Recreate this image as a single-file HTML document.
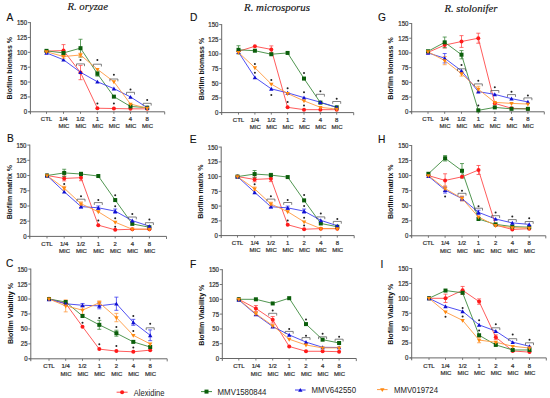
<!DOCTYPE html>
<html><head><meta charset="utf-8"><style>
html,body{margin:0;padding:0;background:#fff;width:550px;height:398px;overflow:hidden;position:relative}
svg text{font-family:"Liberation Sans", sans-serif} svg .ser text{font-family:"Liberation Serif", serif}
</style></head><body>
<svg width="550" height="398" viewBox="0 0 550 398" style="position:absolute;left:0;top:0"><rect width="550" height="398" fill="#fff"/><g class="ser" font-style="italic" font-size="11" fill="#111" stroke="#111" stroke-width="0.15"><text x="67.4" y="10" textLength="40.6" lengthAdjust="spacingAndGlyphs">R. oryzae</text><text x="244" y="10.9" textLength="66" lengthAdjust="spacingAndGlyphs">R. microsporus</text><text x="444.4" y="11.5" textLength="53" lengthAdjust="spacingAndGlyphs">R. stolonifer</text></g><g><text x="6.5" y="20.6" font-size="10.2" fill="#111" stroke="#111" stroke-width="0.12">A</text><text x="-31.2" y="0" transform="translate(12.4 68.2) rotate(-90)" font-size="7.3" font-weight="bold" fill="#111" textLength="62.4" lengthAdjust="spacingAndGlyphs">Biofilm biomass %</text><path d="M30.4 22.1V114.2M28.4 111.8H164.7" stroke="#666666" stroke-width="1" fill="none"/><path d="M27.9 111.8H30.4M27.9 96.93H30.4M27.9 82.07H30.4M27.9 67.2H30.4M27.9 52.33H30.4M27.9 37.47H30.4M27.9 22.6H30.4M46.5 111.8V113.8M63.5 111.8V113.8M80.5 111.8V113.8M97.4 111.8V113.8M113.9 111.8V113.8M130.5 111.8V113.8M147.2 111.8V113.8M164.7 111.8V114.4" stroke="#666666" stroke-width="0.9" fill="none"/><g font-size="6.9" fill="#333333" stroke="#333333" stroke-width="0.24" text-anchor="end"><text transform="translate(27.1 114.25) scale(0.88 1)">0</text><text transform="translate(27.1 99.38) scale(0.88 1)">25</text><text transform="translate(27.1 84.52) scale(0.88 1)">50</text><text transform="translate(27.1 69.65) scale(0.88 1)">75</text><text transform="translate(27.1 54.78) scale(0.88 1)">100</text><text transform="translate(27.1 39.92) scale(0.88 1)">125</text><text transform="translate(27.1 25.05) scale(0.88 1)">150</text></g><g font-size="6.2" fill="#333333" stroke="#333333" stroke-width="0.24" text-anchor="middle"><text transform="translate(46.5 121.4) scale(0.97 1)">CTL</text><text transform="translate(63.5 121.4) scale(0.97 1)">1/4</text><text transform="translate(63.9 128.2) scale(0.97 1)">MIC</text><text transform="translate(80.5 121.4) scale(0.97 1)">1/2</text><text transform="translate(80.9 128.2) scale(0.97 1)">MIC</text><text transform="translate(97.4 121.4) scale(0.97 1)">1</text><text transform="translate(97.8 128.2) scale(0.97 1)">MIC</text><text transform="translate(113.9 121.4) scale(0.97 1)">2</text><text transform="translate(114.3 128.2) scale(0.97 1)">MIC</text><text transform="translate(130.5 121.4) scale(0.97 1)">4</text><text transform="translate(130.9 128.2) scale(0.97 1)">MIC</text><text transform="translate(147.2 121.4) scale(0.97 1)">8</text><text transform="translate(147.6 128.2) scale(0.97 1)">MIC</text></g><polyline points="46.5,51.14 63.5,50.55 80.5,72.55 97.4,108.23 113.9,108.53 130.5,108.83 147.2,108.83" fill="none" stroke="#ff4a4a" stroke-width="0.9"/><polyline points="46.5,50.85 63.5,52.93 80.5,48.17 97.4,73.74 113.9,96.64 130.5,106.45 147.2,107.64" fill="none" stroke="#3d8a3d" stroke-width="0.9"/><polyline points="46.5,52.93 63.5,59.77 80.5,72.25 97.4,81.77 113.9,88.61 130.5,96.93 147.2,107.64" fill="none" stroke="#3c3cf0" stroke-width="0.9"/><polyline points="46.5,51.74 63.5,56.5 80.5,55.01 97.4,69.28 113.9,81.77 130.5,104.07 147.2,108.23" fill="none" stroke="#ff9a40" stroke-width="0.9"/><path d="M63.5 44.6V56.5M61.5 44.6H65.5M61.5 56.5H65.5" stroke="#ff4a4a" stroke-width="0.8" fill="none"/><path d="M80.5 65.42V79.69M78.5 65.42H82.5M78.5 79.69H82.5" stroke="#ff4a4a" stroke-width="0.8" fill="none"/><path d="M80.5 39.25V57.09M78.5 39.25H82.5M78.5 57.09H82.5" stroke="#3d8a3d" stroke-width="0.8" fill="none"/><path d="M63.5 51.14V54.71M61.5 51.14H65.5M61.5 54.71H65.5" stroke="#3d8a3d" stroke-width="0.8" fill="none"/><path d="M97.4 71.36V76.12M95.4 71.36H99.4M95.4 76.12H99.4" stroke="#3d8a3d" stroke-width="0.8" fill="none"/><path d="M63.5 54.71V58.28M61.5 54.71H65.5M61.5 58.28H65.5" stroke="#ff9a40" stroke-width="0.8" fill="none"/><path d="M80.5 53.23V56.79M78.5 53.23H82.5M78.5 56.79H82.5" stroke="#ff9a40" stroke-width="0.8" fill="none"/><circle cx="46.5" cy="51.14" r="2" fill="#ff1a1a"/><circle cx="63.5" cy="50.55" r="2" fill="#ff1a1a"/><circle cx="80.5" cy="72.55" r="2" fill="#ff1a1a"/><circle cx="97.4" cy="108.23" r="2" fill="#ff1a1a"/><circle cx="113.9" cy="108.53" r="2" fill="#ff1a1a"/><circle cx="130.5" cy="108.83" r="2" fill="#ff1a1a"/><circle cx="147.2" cy="108.83" r="2" fill="#ff1a1a"/><rect x="44.5" y="48.85" width="4" height="4" fill="#0b5e0b"/><rect x="61.5" y="50.93" width="4" height="4" fill="#0b5e0b"/><rect x="78.5" y="46.17" width="4" height="4" fill="#0b5e0b"/><rect x="95.4" y="71.74" width="4" height="4" fill="#0b5e0b"/><rect x="111.9" y="94.64" width="4" height="4" fill="#0b5e0b"/><rect x="128.5" y="104.45" width="4" height="4" fill="#0b5e0b"/><rect x="145.2" y="105.64" width="4" height="4" fill="#0b5e0b"/><path d="M46.5 50.88L48.7 54.77L44.3 54.77Z" fill="#1010d0"/><path d="M63.5 57.72L65.7 61.61L61.3 61.61Z" fill="#1010d0"/><path d="M80.5 70.2L82.7 74.1L78.3 74.1Z" fill="#1010d0"/><path d="M97.4 79.72L99.6 83.61L95.2 83.61Z" fill="#1010d0"/><path d="M113.9 86.56L116.1 90.45L111.7 90.45Z" fill="#1010d0"/><path d="M130.5 94.88L132.7 98.78L128.3 98.78Z" fill="#1010d0"/><path d="M147.2 105.59L149.4 109.48L145 109.48Z" fill="#1010d0"/><path d="M46.5 54.24L48.7 50.34L44.3 50.34Z" fill="#ff8a10"/><path d="M63.5 59L65.7 55.1L61.3 55.1Z" fill="#ff8a10"/><path d="M80.5 57.51L82.7 53.61L78.3 53.61Z" fill="#ff8a10"/><path d="M97.4 71.78L99.6 67.89L95.2 67.89Z" fill="#ff8a10"/><path d="M113.9 84.27L116.1 80.37L111.7 80.37Z" fill="#ff8a10"/><path d="M130.5 106.57L132.7 102.67L128.3 102.67Z" fill="#ff8a10"/><path d="M147.2 110.73L149.4 106.84L145 106.84Z" fill="#ff8a10"/><path d="M76.5 66.2V63.9H84.5V66.2M93.4 66.5V64.2H101.4V66.5M109.9 81.3V79H117.9V81.3M126.5 94.6V92.3H134.5V94.6M143.2 105.6V103.3H151.2V105.6" stroke="#555" stroke-width="0.75" fill="none"/><circle cx="80.5" cy="60" r="1.0" fill="#222"/><circle cx="97.4" cy="60" r="1.0" fill="#222"/><circle cx="113.9" cy="74.8" r="1.0" fill="#222"/><circle cx="130.5" cy="89.5" r="1.0" fill="#222"/><circle cx="147.2" cy="100" r="1.0" fill="#222"/><circle cx="97.4" cy="103.6" r="1.0" fill="#222"/><circle cx="113.9" cy="103.6" r="1.0" fill="#222"/></g><g><text x="190" y="20.6" font-size="10.2" fill="#111" stroke="#111" stroke-width="0.12">D</text><text x="-31.2" y="0" transform="translate(203.5 69) rotate(-90)" font-size="7.3" font-weight="bold" fill="#111" textLength="62.4" lengthAdjust="spacingAndGlyphs">Biofilm biomass %</text><path d="M221.7 24.1V115M219.7 112.6H353.7" stroke="#666666" stroke-width="1" fill="none"/><path d="M219.2 112.6H221.7M219.2 97.93H221.7M219.2 83.27H221.7M219.2 68.6H221.7M219.2 53.93H221.7M219.2 39.27H221.7M219.2 24.6H221.7M238.5 112.6V114.6M254.9 112.6V114.6M271.3 112.6V114.6M287.6 112.6V114.6M304 112.6V114.6M320.4 112.6V114.6M336.7 112.6V114.6M353.7 112.6V115.2" stroke="#666666" stroke-width="0.9" fill="none"/><g font-size="6.9" fill="#333333" stroke="#333333" stroke-width="0.24" text-anchor="end"><text transform="translate(218.4 115.05) scale(0.88 1)">0</text><text transform="translate(218.4 100.38) scale(0.88 1)">25</text><text transform="translate(218.4 85.72) scale(0.88 1)">50</text><text transform="translate(218.4 71.05) scale(0.88 1)">75</text><text transform="translate(218.4 56.38) scale(0.88 1)">100</text><text transform="translate(218.4 41.72) scale(0.88 1)">125</text><text transform="translate(218.4 27.05) scale(0.88 1)">150</text></g><g font-size="6.2" fill="#333333" stroke="#333333" stroke-width="0.24" text-anchor="middle"><text transform="translate(238.5 122.2) scale(0.97 1)">CTL</text><text transform="translate(254.9 122.2) scale(0.97 1)">1/4</text><text transform="translate(255.3 129) scale(0.97 1)">MIC</text><text transform="translate(271.3 122.2) scale(0.97 1)">1/2</text><text transform="translate(271.7 129) scale(0.97 1)">MIC</text><text transform="translate(287.6 122.2) scale(0.97 1)">1</text><text transform="translate(288 129) scale(0.97 1)">MIC</text><text transform="translate(304 122.2) scale(0.97 1)">2</text><text transform="translate(304.4 129) scale(0.97 1)">MIC</text><text transform="translate(320.4 122.2) scale(0.97 1)">4</text><text transform="translate(320.8 129) scale(0.97 1)">MIC</text><text transform="translate(336.7 122.2) scale(0.97 1)">8</text><text transform="translate(337.1 129) scale(0.97 1)">MIC</text></g><polyline points="238.5,51.29 254.9,46.31 271.3,49.42 287.6,107.32 304,109.67 320.4,109.67 336.7,109.67" fill="none" stroke="#ff4a4a" stroke-width="0.9"/><polyline points="238.5,49.83 254.9,50.71 271.3,54.23 287.6,52.94 304,78.57 320.4,102.63 336.7,107.32" fill="none" stroke="#3d8a3d" stroke-width="0.9"/><polyline points="238.5,52.17 254.9,77.4 271.3,88.9 287.6,92.83 304,97.64 320.4,102.22 336.7,107.32" fill="none" stroke="#3c3cf0" stroke-width="0.9"/><polyline points="238.5,52.47 254.9,67.72 271.3,84.09 287.6,93.47 304,100.87 320.4,107.32 336.7,109.08" fill="none" stroke="#ff9a40" stroke-width="0.9"/><path d="M271.3 45.9V52.94M269.3 45.9H273.3M269.3 52.94H273.3" stroke="#ff4a4a" stroke-width="0.8" fill="none"/><path d="M238.5 45.72V53.93M236.5 45.72H240.5M236.5 53.93H240.5" stroke="#3d8a3d" stroke-width="0.8" fill="none"/><circle cx="238.5" cy="51.29" r="2" fill="#ff1a1a"/><circle cx="254.9" cy="46.31" r="2" fill="#ff1a1a"/><circle cx="271.3" cy="49.42" r="2" fill="#ff1a1a"/><circle cx="287.6" cy="107.32" r="2" fill="#ff1a1a"/><circle cx="304" cy="109.67" r="2" fill="#ff1a1a"/><circle cx="320.4" cy="109.67" r="2" fill="#ff1a1a"/><circle cx="336.7" cy="109.67" r="2" fill="#ff1a1a"/><rect x="236.5" y="47.83" width="4" height="4" fill="#0b5e0b"/><rect x="252.9" y="48.71" width="4" height="4" fill="#0b5e0b"/><rect x="269.3" y="52.23" width="4" height="4" fill="#0b5e0b"/><rect x="285.6" y="50.94" width="4" height="4" fill="#0b5e0b"/><rect x="302" y="76.57" width="4" height="4" fill="#0b5e0b"/><rect x="318.4" y="100.63" width="4" height="4" fill="#0b5e0b"/><rect x="334.7" y="105.32" width="4" height="4" fill="#0b5e0b"/><path d="M238.5 50.12L240.7 54.02L236.3 54.02Z" fill="#1010d0"/><path d="M254.9 75.35L257.1 79.24L252.7 79.24Z" fill="#1010d0"/><path d="M271.3 86.85L273.5 90.74L269.1 90.74Z" fill="#1010d0"/><path d="M287.6 90.78L289.8 94.67L285.4 94.67Z" fill="#1010d0"/><path d="M304 95.59L306.2 99.48L301.8 99.48Z" fill="#1010d0"/><path d="M320.4 100.17L322.6 104.06L318.2 104.06Z" fill="#1010d0"/><path d="M336.7 105.27L338.9 109.16L334.5 109.16Z" fill="#1010d0"/><path d="M238.5 54.97L240.7 51.07L236.3 51.07Z" fill="#ff8a10"/><path d="M254.9 70.22L257.1 66.33L252.7 66.33Z" fill="#ff8a10"/><path d="M271.3 86.59L273.5 82.69L269.1 82.69Z" fill="#ff8a10"/><path d="M287.6 95.97L289.8 92.08L285.4 92.08Z" fill="#ff8a10"/><path d="M304 103.37L306.2 99.47L301.8 99.47Z" fill="#ff8a10"/><path d="M320.4 109.82L322.6 105.92L318.2 105.92Z" fill="#ff8a10"/><path d="M336.7 111.58L338.9 107.69L334.5 107.69Z" fill="#ff8a10"/><path d="M316.4 96.6V94.3H324.4V96.6M332.7 103.8V101.5H340.7V103.8" stroke="#555" stroke-width="0.75" fill="none"/><circle cx="254.9" cy="63.9" r="1.0" fill="#222"/><circle cx="254.9" cy="72.8" r="1.0" fill="#222"/><circle cx="271.3" cy="80" r="1.0" fill="#222"/><circle cx="271.3" cy="95" r="1.0" fill="#222"/><circle cx="287.6" cy="88.3" r="1.0" fill="#222"/><circle cx="287.6" cy="102" r="1.0" fill="#222"/><circle cx="304" cy="72.9" r="1.0" fill="#222"/><circle cx="304" cy="92.2" r="1.0" fill="#222"/><circle cx="304" cy="105.5" r="1.0" fill="#222"/><circle cx="320.4" cy="91.3" r="1.0" fill="#222"/><circle cx="336.7" cy="98.7" r="1.0" fill="#222"/></g><g><text x="378" y="21" font-size="10.2" fill="#111" stroke="#111" stroke-width="0.12">G</text><text x="-31.2" y="0" transform="translate(393.1 68.5) rotate(-90)" font-size="7.3" font-weight="bold" fill="#111" textLength="62.4" lengthAdjust="spacingAndGlyphs">Biofilm biomass %</text><path d="M411.7 23V114.2M409.7 111.8H544.3" stroke="#666666" stroke-width="1" fill="none"/><path d="M409.2 111.8H411.7M409.2 97.08H411.7M409.2 82.37H411.7M409.2 67.65H411.7M409.2 52.93H411.7M409.2 38.22H411.7M409.2 23.5H411.7M428 111.8V113.8M444.7 111.8V113.8M461.5 111.8V113.8M478.3 111.8V113.8M494.8 111.8V113.8M511.5 111.8V113.8M527.9 111.8V113.8M544.3 111.8V114.4" stroke="#666666" stroke-width="0.9" fill="none"/><g font-size="6.9" fill="#333333" stroke="#333333" stroke-width="0.24" text-anchor="end"><text transform="translate(408.4 114.25) scale(0.88 1)">0</text><text transform="translate(408.4 99.53) scale(0.88 1)">25</text><text transform="translate(408.4 84.82) scale(0.88 1)">50</text><text transform="translate(408.4 70.1) scale(0.88 1)">75</text><text transform="translate(408.4 55.38) scale(0.88 1)">100</text><text transform="translate(408.4 40.67) scale(0.88 1)">125</text><text transform="translate(408.4 25.95) scale(0.88 1)">150</text></g><g font-size="6.2" fill="#333333" stroke="#333333" stroke-width="0.24" text-anchor="middle"><text transform="translate(428 121.4) scale(0.97 1)">CTL</text><text transform="translate(444.7 121.4) scale(0.97 1)">1/4</text><text transform="translate(445.1 128.1) scale(0.97 1)">MIC</text><text transform="translate(461.5 121.4) scale(0.97 1)">1/2</text><text transform="translate(461.9 128.1) scale(0.97 1)">MIC</text><text transform="translate(478.3 121.4) scale(0.97 1)">1</text><text transform="translate(478.7 128.1) scale(0.97 1)">MIC</text><text transform="translate(494.8 121.4) scale(0.97 1)">2</text><text transform="translate(495.2 128.1) scale(0.97 1)">MIC</text><text transform="translate(511.5 121.4) scale(0.97 1)">4</text><text transform="translate(511.9 128.1) scale(0.97 1)">MIC</text><text transform="translate(527.9 121.4) scale(0.97 1)">8</text><text transform="translate(528.3 128.1) scale(0.97 1)">MIC</text></g><polyline points="428,52.34 444.7,45.1 461.5,41.51 478.3,38.22 494.8,103.38 511.5,108.27 527.9,108.86" fill="none" stroke="#ff4a4a" stroke-width="0.9"/><polyline points="428,51.29 444.7,42.34 461.5,54.7 478.3,110.33 494.8,107.38 511.5,108.86 527.9,108.86" fill="none" stroke="#3d8a3d" stroke-width="0.9"/><polyline points="428,52.93 444.7,58.23 461.5,70.83 478.3,91.61 494.8,94.38 511.5,98.67 527.9,101.91" fill="none" stroke="#3c3cf0" stroke-width="0.9"/><polyline points="428,51.76 444.7,60.59 461.5,73.71 478.3,89.2 494.8,102.38 511.5,103.38 527.9,104.03" fill="none" stroke="#ff9a40" stroke-width="0.9"/><path d="M444.7 42.16V48.05M442.7 42.16H446.7M442.7 48.05H446.7" stroke="#ff4a4a" stroke-width="0.8" fill="none"/><path d="M461.5 35.63V47.4M459.5 35.63H463.5M459.5 47.4H463.5" stroke="#ff4a4a" stroke-width="0.8" fill="none"/><path d="M478.3 33.21V43.22M476.3 33.21H480.3M476.3 43.22H480.3" stroke="#ff4a4a" stroke-width="0.8" fill="none"/><path d="M444.7 37.04V47.64M442.7 37.04H446.7M442.7 47.64H446.7" stroke="#3d8a3d" stroke-width="0.8" fill="none"/><path d="M461.5 50.58V58.82M459.5 50.58H463.5M459.5 58.82H463.5" stroke="#3d8a3d" stroke-width="0.8" fill="none"/><path d="M444.7 53.52V62.94M442.7 53.52H446.7M442.7 62.94H446.7" stroke="#3c3cf0" stroke-width="0.8" fill="none"/><path d="M444.7 56.47V64.71M442.7 56.47H446.7M442.7 64.71H446.7" stroke="#ff9a40" stroke-width="0.8" fill="none"/><path d="M461.5 71.36V76.07M459.5 71.36H463.5M459.5 76.07H463.5" stroke="#ff9a40" stroke-width="0.8" fill="none"/><path d="M478.3 86.25V92.14M476.3 86.25H480.3M476.3 92.14H480.3" stroke="#ff9a40" stroke-width="0.8" fill="none"/><circle cx="428" cy="52.34" r="2" fill="#ff1a1a"/><circle cx="444.7" cy="45.1" r="2" fill="#ff1a1a"/><circle cx="461.5" cy="41.51" r="2" fill="#ff1a1a"/><circle cx="478.3" cy="38.22" r="2" fill="#ff1a1a"/><circle cx="494.8" cy="103.38" r="2" fill="#ff1a1a"/><circle cx="511.5" cy="108.27" r="2" fill="#ff1a1a"/><circle cx="527.9" cy="108.86" r="2" fill="#ff1a1a"/><rect x="426" y="49.29" width="4" height="4" fill="#0b5e0b"/><rect x="442.7" y="40.34" width="4" height="4" fill="#0b5e0b"/><rect x="459.5" y="52.7" width="4" height="4" fill="#0b5e0b"/><rect x="476.3" y="108.33" width="4" height="4" fill="#0b5e0b"/><rect x="492.8" y="105.38" width="4" height="4" fill="#0b5e0b"/><rect x="509.5" y="106.86" width="4" height="4" fill="#0b5e0b"/><rect x="525.9" y="106.86" width="4" height="4" fill="#0b5e0b"/><path d="M428 50.88L430.2 54.78L425.8 54.78Z" fill="#1010d0"/><path d="M444.7 56.18L446.9 60.08L442.5 60.08Z" fill="#1010d0"/><path d="M461.5 68.78L463.7 72.67L459.3 72.67Z" fill="#1010d0"/><path d="M478.3 89.56L480.5 93.45L476.1 93.45Z" fill="#1010d0"/><path d="M494.8 92.33L497 96.22L492.6 96.22Z" fill="#1010d0"/><path d="M511.5 96.62L513.7 100.52L509.3 100.52Z" fill="#1010d0"/><path d="M527.9 99.86L530.1 103.76L525.7 103.76Z" fill="#1010d0"/><path d="M428 54.26L430.2 50.36L425.8 50.36Z" fill="#ff8a10"/><path d="M444.7 63.09L446.9 59.19L442.5 59.19Z" fill="#ff8a10"/><path d="M461.5 76.21L463.7 72.32L459.3 72.32Z" fill="#ff8a10"/><path d="M478.3 91.7L480.5 87.8L476.1 87.8Z" fill="#ff8a10"/><path d="M494.8 104.88L497 100.99L492.6 100.99Z" fill="#ff8a10"/><path d="M511.5 105.88L513.7 101.99L509.3 101.99Z" fill="#ff8a10"/><path d="M527.9 106.53L530.1 102.63L525.7 102.63Z" fill="#ff8a10"/><path d="M457.5 71.1V68.8H465.5V71.1M474.3 86.2V83.9H482.3V86.2M490.8 92.8V90.5H498.8V92.8M507.5 96.9V94.6H515.5V96.9M523.9 100.2V97.9H531.9V100.2" stroke="#555" stroke-width="0.75" fill="none"/><circle cx="461.5" cy="65" r="1.0" fill="#222"/><circle cx="478.3" cy="80.8" r="1.0" fill="#222"/><circle cx="478.3" cy="105.6" r="1.0" fill="#222"/><circle cx="494.8" cy="87.2" r="1.0" fill="#222"/><circle cx="511.5" cy="91.7" r="1.0" fill="#222"/><circle cx="527.9" cy="95.4" r="1.0" fill="#222"/></g><g><text x="7" y="142" font-size="10.2" fill="#111" stroke="#111" stroke-width="0.12">B</text><text x="-27.15" y="0" transform="translate(12.4 192.2) rotate(-90)" font-size="7.3" font-weight="bold" fill="#111" textLength="54.3" lengthAdjust="spacingAndGlyphs">Biofilm matrix %</text><path d="M29.8 144.6V238.8M27.8 236.4H166.5" stroke="#666666" stroke-width="1" fill="none"/><path d="M27.3 236.4H29.8M27.3 221.18H29.8M27.3 205.97H29.8M27.3 190.75H29.8M27.3 175.53H29.8M27.3 160.32H29.8M27.3 145.1H29.8M47 236.4V238.4M64.2 236.4V238.4M81 236.4V238.4M98.3 236.4V238.4M115.2 236.4V238.4M132.3 236.4V238.4M149.4 236.4V238.4M166.5 236.4V239" stroke="#666666" stroke-width="0.9" fill="none"/><g font-size="6.9" fill="#333333" stroke="#333333" stroke-width="0.24" text-anchor="end"><text transform="translate(26.5 238.85) scale(0.88 1)">0</text><text transform="translate(26.5 223.63) scale(0.88 1)">25</text><text transform="translate(26.5 208.42) scale(0.88 1)">50</text><text transform="translate(26.5 193.2) scale(0.88 1)">75</text><text transform="translate(26.5 177.98) scale(0.88 1)">100</text><text transform="translate(26.5 162.77) scale(0.88 1)">125</text><text transform="translate(26.5 147.55) scale(0.88 1)">150</text></g><g font-size="6.2" fill="#333333" stroke="#333333" stroke-width="0.24" text-anchor="middle"><text transform="translate(47 246) scale(0.97 1)">CTL</text><text transform="translate(64.2 246) scale(0.97 1)">1/4</text><text transform="translate(64.6 253.2) scale(0.97 1)">MIC</text><text transform="translate(81 246) scale(0.97 1)">1/2</text><text transform="translate(81.4 253.2) scale(0.97 1)">MIC</text><text transform="translate(98.3 246) scale(0.97 1)">1</text><text transform="translate(98.7 253.2) scale(0.97 1)">MIC</text><text transform="translate(115.2 246) scale(0.97 1)">2</text><text transform="translate(115.6 253.2) scale(0.97 1)">MIC</text><text transform="translate(132.3 246) scale(0.97 1)">4</text><text transform="translate(132.7 253.2) scale(0.97 1)">MIC</text><text transform="translate(149.4 246) scale(0.97 1)">8</text><text transform="translate(149.8 253.2) scale(0.97 1)">MIC</text></g><polyline points="47,175.53 64.2,178.45 81,177.66 98.3,225.2 115.2,229.83 132.3,229.22 149.4,229.22" fill="none" stroke="#ff4a4a" stroke-width="0.9"/><polyline points="47,175.53 64.2,172.92 81,174.01 98.3,176.02 115.2,200.06 132.3,223.86 149.4,227.27" fill="none" stroke="#3d8a3d" stroke-width="0.9"/><polyline points="47,175.53 64.2,191.72 81,206.58 98.3,207.79 115.2,211.14 132.3,220.64 149.4,226.24" fill="none" stroke="#3c3cf0" stroke-width="0.9"/><polyline points="47,175.53 64.2,188.13 81,203.78 98.3,211.75 115.2,222.22 132.3,229.22 149.4,229.22" fill="none" stroke="#ff9a40" stroke-width="0.9"/><path d="M64.2 176.02V180.89M62.2 176.02H66.2M62.2 180.89H66.2" stroke="#ff4a4a" stroke-width="0.8" fill="none"/><path d="M81 174.62V180.71M79 174.62H83M79 180.71H83" stroke="#ff4a4a" stroke-width="0.8" fill="none"/><path d="M64.2 169.26V176.57M62.2 169.26H66.2M62.2 176.57H66.2" stroke="#3d8a3d" stroke-width="0.8" fill="none"/><path d="M81 172.19V175.84M79 172.19H83M79 175.84H83" stroke="#3d8a3d" stroke-width="0.8" fill="none"/><path d="M98.3 205.97V209.62M96.3 205.97H100.3M96.3 209.62H100.3" stroke="#3c3cf0" stroke-width="0.8" fill="none"/><path d="M81 205.36V207.79M79 205.36H83M79 207.79H83" stroke="#3c3cf0" stroke-width="0.8" fill="none"/><path d="M115.2 209.01V213.27M113.2 209.01H117.2M113.2 213.27H117.2" stroke="#3c3cf0" stroke-width="0.8" fill="none"/><path d="M64.2 186.31V189.96M62.2 186.31H66.2M62.2 189.96H66.2" stroke="#ff9a40" stroke-width="0.8" fill="none"/><path d="M81 201.95V205.6M79 201.95H83M79 205.6H83" stroke="#ff9a40" stroke-width="0.8" fill="none"/><circle cx="47" cy="175.53" r="2" fill="#ff1a1a"/><circle cx="64.2" cy="178.45" r="2" fill="#ff1a1a"/><circle cx="81" cy="177.66" r="2" fill="#ff1a1a"/><circle cx="98.3" cy="225.2" r="2" fill="#ff1a1a"/><circle cx="115.2" cy="229.83" r="2" fill="#ff1a1a"/><circle cx="132.3" cy="229.22" r="2" fill="#ff1a1a"/><circle cx="149.4" cy="229.22" r="2" fill="#ff1a1a"/><rect x="45" y="173.53" width="4" height="4" fill="#0b5e0b"/><rect x="62.2" y="170.92" width="4" height="4" fill="#0b5e0b"/><rect x="79" y="172.01" width="4" height="4" fill="#0b5e0b"/><rect x="96.3" y="174.02" width="4" height="4" fill="#0b5e0b"/><rect x="113.2" y="198.06" width="4" height="4" fill="#0b5e0b"/><rect x="130.3" y="221.86" width="4" height="4" fill="#0b5e0b"/><rect x="147.4" y="225.27" width="4" height="4" fill="#0b5e0b"/><path d="M47 173.48L49.2 177.38L44.8 177.38Z" fill="#1010d0"/><path d="M64.2 189.67L66.4 193.57L62 193.57Z" fill="#1010d0"/><path d="M81 204.53L83.2 208.42L78.8 208.42Z" fill="#1010d0"/><path d="M98.3 205.74L100.5 209.64L96.1 209.64Z" fill="#1010d0"/><path d="M115.2 209.09L117.4 212.99L113 212.99Z" fill="#1010d0"/><path d="M132.3 218.59L134.5 222.48L130.1 222.48Z" fill="#1010d0"/><path d="M149.4 224.19L151.6 228.08L147.2 228.08Z" fill="#1010d0"/><path d="M47 178.03L49.2 174.14L44.8 174.14Z" fill="#ff8a10"/><path d="M64.2 190.63L66.4 186.74L62 186.74Z" fill="#ff8a10"/><path d="M81 206.28L83.2 202.38L78.8 202.38Z" fill="#ff8a10"/><path d="M98.3 214.25L100.5 210.35L96.1 210.35Z" fill="#ff8a10"/><path d="M115.2 224.72L117.4 220.82L113 220.82Z" fill="#ff8a10"/><path d="M132.3 231.72L134.5 227.82L130.1 227.82Z" fill="#ff8a10"/><path d="M149.4 231.72L151.6 227.82L147.2 227.82Z" fill="#ff8a10"/><path d="M77 201.5V199.2H85V201.5M94.3 204.9V202.6H102.3V204.9M128.3 219.3V217H136.3V219.3M145.4 225V222.7H153.4V225" stroke="#555" stroke-width="0.75" fill="none"/><circle cx="64.2" cy="184.1" r="1.0" fill="#222"/><circle cx="81" cy="196.3" r="1.0" fill="#222"/><circle cx="98.3" cy="200.1" r="1.0" fill="#222"/><circle cx="98.3" cy="220.4" r="1.0" fill="#222"/><circle cx="115.2" cy="195.2" r="1.0" fill="#222"/><circle cx="115.2" cy="206.3" r="1.0" fill="#222"/><circle cx="115.2" cy="218.3" r="1.0" fill="#222"/><circle cx="115.2" cy="226.8" r="1.0" fill="#222"/><circle cx="132.3" cy="213.9" r="1.0" fill="#222"/><circle cx="149.4" cy="219.5" r="1.0" fill="#222"/></g><g><text x="189.7" y="143" font-size="10.2" fill="#111" stroke="#111" stroke-width="0.12">E</text><text x="-27.15" y="0" transform="translate(203.1 191.65) rotate(-90)" font-size="7.3" font-weight="bold" fill="#111" textLength="54.3" lengthAdjust="spacingAndGlyphs">Biofilm matrix %</text><path d="M221.2 146.6V238M219.2 235.6H354.2" stroke="#666666" stroke-width="1" fill="none"/><path d="M218.7 235.6H221.2M218.7 220.85H221.2M218.7 206.1H221.2M218.7 191.35H221.2M218.7 176.6H221.2M218.7 161.85H221.2M218.7 147.1H221.2M237.5 235.6V237.6M254.6 235.6V237.6M270.9 235.6V237.6M287.7 235.6V237.6M304.1 235.6V237.6M320.8 235.6V237.6M337.3 235.6V237.6M354.2 235.6V238.2" stroke="#666666" stroke-width="0.9" fill="none"/><g font-size="6.9" fill="#333333" stroke="#333333" stroke-width="0.24" text-anchor="end"><text transform="translate(217.9 238.05) scale(0.88 1)">0</text><text transform="translate(217.9 223.3) scale(0.88 1)">25</text><text transform="translate(217.9 208.55) scale(0.88 1)">50</text><text transform="translate(217.9 193.8) scale(0.88 1)">75</text><text transform="translate(217.9 179.05) scale(0.88 1)">100</text><text transform="translate(217.9 164.3) scale(0.88 1)">125</text><text transform="translate(217.9 149.55) scale(0.88 1)">150</text></g><g font-size="6.2" fill="#333333" stroke="#333333" stroke-width="0.24" text-anchor="middle"><text transform="translate(237.5 245.2) scale(0.97 1)">CTL</text><text transform="translate(254.6 245.2) scale(0.97 1)">1/4</text><text transform="translate(255 252.4) scale(0.97 1)">MIC</text><text transform="translate(270.9 245.2) scale(0.97 1)">1/2</text><text transform="translate(271.3 252.4) scale(0.97 1)">MIC</text><text transform="translate(287.7 245.2) scale(0.97 1)">1</text><text transform="translate(288.1 252.4) scale(0.97 1)">MIC</text><text transform="translate(304.1 245.2) scale(0.97 1)">2</text><text transform="translate(304.5 252.4) scale(0.97 1)">MIC</text><text transform="translate(320.8 245.2) scale(0.97 1)">4</text><text transform="translate(321.2 252.4) scale(0.97 1)">MIC</text><text transform="translate(337.3 245.2) scale(0.97 1)">8</text><text transform="translate(337.7 252.4) scale(0.97 1)">MIC</text></g><polyline points="237.5,176.6 254.6,179.43 270.9,178.66 287.7,224.74 304.1,229.23 320.8,228.64 337.3,228.64" fill="none" stroke="#ff4a4a" stroke-width="0.9"/><polyline points="237.5,176.6 254.6,174.06 270.9,175.12 287.7,177.07 304.1,200.38 320.8,223.45 337.3,226.75" fill="none" stroke="#3d8a3d" stroke-width="0.9"/><polyline points="237.5,176.6 254.6,192.29 270.9,206.69 287.7,207.87 304.1,211.12 320.8,220.32 337.3,225.75" fill="none" stroke="#3c3cf0" stroke-width="0.9"/><polyline points="237.5,176.6 254.6,188.81 270.9,203.98 287.7,211.7 304.1,221.85 320.8,228.64 337.3,228.64" fill="none" stroke="#ff9a40" stroke-width="0.9"/><path d="M254.6 177.07V181.79M252.6 177.07H256.6M252.6 181.79H256.6" stroke="#ff4a4a" stroke-width="0.8" fill="none"/><path d="M270.9 175.72V181.62M268.9 175.72H272.9M268.9 181.62H272.9" stroke="#ff4a4a" stroke-width="0.8" fill="none"/><path d="M254.6 170.52V177.6M252.6 170.52H256.6M252.6 177.6H256.6" stroke="#3d8a3d" stroke-width="0.8" fill="none"/><path d="M270.9 173.35V176.89M268.9 173.35H272.9M268.9 176.89H272.9" stroke="#3d8a3d" stroke-width="0.8" fill="none"/><path d="M287.7 206.1V209.64M285.7 206.1H289.7M285.7 209.64H289.7" stroke="#3c3cf0" stroke-width="0.8" fill="none"/><path d="M270.9 205.51V207.87M268.9 205.51H272.9M268.9 207.87H272.9" stroke="#3c3cf0" stroke-width="0.8" fill="none"/><path d="M304.1 209.05V213.18M302.1 209.05H306.1M302.1 213.18H306.1" stroke="#3c3cf0" stroke-width="0.8" fill="none"/><path d="M254.6 187.04V190.58M252.6 187.04H256.6M252.6 190.58H256.6" stroke="#ff9a40" stroke-width="0.8" fill="none"/><path d="M270.9 202.21V205.75M268.9 202.21H272.9M268.9 205.75H272.9" stroke="#ff9a40" stroke-width="0.8" fill="none"/><circle cx="237.5" cy="176.6" r="2" fill="#ff1a1a"/><circle cx="254.6" cy="179.43" r="2" fill="#ff1a1a"/><circle cx="270.9" cy="178.66" r="2" fill="#ff1a1a"/><circle cx="287.7" cy="224.74" r="2" fill="#ff1a1a"/><circle cx="304.1" cy="229.23" r="2" fill="#ff1a1a"/><circle cx="320.8" cy="228.64" r="2" fill="#ff1a1a"/><circle cx="337.3" cy="228.64" r="2" fill="#ff1a1a"/><rect x="235.5" y="174.6" width="4" height="4" fill="#0b5e0b"/><rect x="252.6" y="172.06" width="4" height="4" fill="#0b5e0b"/><rect x="268.9" y="173.12" width="4" height="4" fill="#0b5e0b"/><rect x="285.7" y="175.07" width="4" height="4" fill="#0b5e0b"/><rect x="302.1" y="198.38" width="4" height="4" fill="#0b5e0b"/><rect x="318.8" y="221.45" width="4" height="4" fill="#0b5e0b"/><rect x="335.3" y="224.75" width="4" height="4" fill="#0b5e0b"/><path d="M237.5 174.55L239.7 178.44L235.3 178.44Z" fill="#1010d0"/><path d="M254.6 190.24L256.8 194.14L252.4 194.14Z" fill="#1010d0"/><path d="M270.9 204.64L273.1 208.53L268.7 208.53Z" fill="#1010d0"/><path d="M287.7 205.82L289.9 209.72L285.5 209.72Z" fill="#1010d0"/><path d="M304.1 209.06L306.3 212.96L301.9 212.96Z" fill="#1010d0"/><path d="M320.8 218.27L323 222.16L318.6 222.16Z" fill="#1010d0"/><path d="M337.3 223.7L339.5 227.59L335.1 227.59Z" fill="#1010d0"/><path d="M237.5 179.1L239.7 175.2L235.3 175.2Z" fill="#ff8a10"/><path d="M254.6 191.31L256.8 187.42L252.4 187.42Z" fill="#ff8a10"/><path d="M270.9 206.48L273.1 202.58L268.7 202.58Z" fill="#ff8a10"/><path d="M287.7 214.2L289.9 210.31L285.5 210.31Z" fill="#ff8a10"/><path d="M304.1 224.35L306.3 220.46L301.9 220.46Z" fill="#ff8a10"/><path d="M320.8 231.14L323 227.24L318.6 227.24Z" fill="#ff8a10"/><path d="M337.3 231.14L339.5 227.24L335.1 227.24Z" fill="#ff8a10"/><path d="M266.9 201.4V199.1H274.9V201.4M283.7 204.8V202.5H291.7V204.8M316.8 219.2V216.9H324.8V219.2M333.3 223.7V221.4H341.3V223.7" stroke="#555" stroke-width="0.75" fill="none"/><circle cx="254.6" cy="184.2" r="1.0" fill="#222"/><circle cx="270.9" cy="196.3" r="1.0" fill="#222"/><circle cx="287.7" cy="200" r="1.0" fill="#222"/><circle cx="287.7" cy="220.4" r="1.0" fill="#222"/><circle cx="304.1" cy="195.1" r="1.0" fill="#222"/><circle cx="304.1" cy="206" r="1.0" fill="#222"/><circle cx="304.1" cy="217.7" r="1.0" fill="#222"/><circle cx="304.1" cy="225.5" r="1.0" fill="#222"/><circle cx="320.8" cy="213.5" r="1.0" fill="#222"/><circle cx="337.3" cy="219.1" r="1.0" fill="#222"/></g><g><text x="378" y="143" font-size="10.2" fill="#111" stroke="#111" stroke-width="0.12">H</text><text x="-27.15" y="0" transform="translate(393.1 191.8) rotate(-90)" font-size="7.3" font-weight="bold" fill="#111" textLength="54.3" lengthAdjust="spacingAndGlyphs">Biofilm matrix %</text><path d="M411.7 145V238.2M409.7 235.8H545.8" stroke="#666666" stroke-width="1" fill="none"/><path d="M409.2 235.8H411.7M409.2 220.75H411.7M409.2 205.7H411.7M409.2 190.65H411.7M409.2 175.6H411.7M409.2 160.55H411.7M409.2 145.5H411.7M428.4 235.8V237.8M445.1 235.8V237.8M462 235.8V237.8M478.5 235.8V237.8M495.6 235.8V237.8M512.3 235.8V237.8M529.2 235.8V237.8M545.8 235.8V238.4" stroke="#666666" stroke-width="0.9" fill="none"/><g font-size="6.9" fill="#333333" stroke="#333333" stroke-width="0.24" text-anchor="end"><text transform="translate(408.4 238.25) scale(0.88 1)">0</text><text transform="translate(408.4 223.2) scale(0.88 1)">25</text><text transform="translate(408.4 208.15) scale(0.88 1)">50</text><text transform="translate(408.4 193.1) scale(0.88 1)">75</text><text transform="translate(408.4 178.05) scale(0.88 1)">100</text><text transform="translate(408.4 163) scale(0.88 1)">125</text><text transform="translate(408.4 147.95) scale(0.88 1)">150</text></g><g font-size="6.2" fill="#333333" stroke="#333333" stroke-width="0.24" text-anchor="middle"><text transform="translate(428.4 245.4) scale(0.97 1)">CTL</text><text transform="translate(445.1 245.4) scale(0.97 1)">1/4</text><text transform="translate(445.5 252.6) scale(0.97 1)">MIC</text><text transform="translate(462 245.4) scale(0.97 1)">1/2</text><text transform="translate(462.4 252.6) scale(0.97 1)">MIC</text><text transform="translate(478.5 245.4) scale(0.97 1)">1</text><text transform="translate(478.9 252.6) scale(0.97 1)">MIC</text><text transform="translate(495.6 245.4) scale(0.97 1)">2</text><text transform="translate(496 252.6) scale(0.97 1)">MIC</text><text transform="translate(512.3 245.4) scale(0.97 1)">4</text><text transform="translate(512.7 252.6) scale(0.97 1)">MIC</text><text transform="translate(529.2 245.4) scale(0.97 1)">8</text><text transform="translate(529.6 252.6) scale(0.97 1)">MIC</text></g><polyline points="428.4,175.6 445.1,180.42 462,176.8 478.5,170 495.6,225.08 512.3,229.42 529.2,228.7" fill="none" stroke="#ff4a4a" stroke-width="0.9"/><polyline points="428.4,173.79 445.1,158.26 462,170.78 478.5,219 495.6,224.36 512.3,226.59 529.2,227.19" fill="none" stroke="#3d8a3d" stroke-width="0.9"/><polyline points="428.4,176.2 445.1,190.05 462,198.6 478.5,212.32 495.6,219 512.3,222.92 529.2,224.36" fill="none" stroke="#3c3cf0" stroke-width="0.9"/><polyline points="428.4,175.6 445.1,188.54 462,198.48 478.5,217.02 495.6,225.51 512.3,227.61 529.2,228.09" fill="none" stroke="#ff9a40" stroke-width="0.9"/><path d="M445.1 173.79V187.04M443.1 173.79H447.1M443.1 187.04H447.1" stroke="#ff4a4a" stroke-width="0.8" fill="none"/><path d="M478.5 165.49V174.52M476.5 165.49H480.5M476.5 174.52H480.5" stroke="#ff4a4a" stroke-width="0.8" fill="none"/><path d="M445.1 155.55V160.97M443.1 155.55H447.1M443.1 160.97H447.1" stroke="#3d8a3d" stroke-width="0.8" fill="none"/><path d="M462 163.56V178.01M460 163.56H464M460 178.01H464" stroke="#3d8a3d" stroke-width="0.8" fill="none"/><path d="M445.1 187.04V193.06M443.1 187.04H447.1M443.1 193.06H447.1" stroke="#3c3cf0" stroke-width="0.8" fill="none"/><path d="M462 196.49V200.7M460 196.49H464M460 200.7H464" stroke="#3c3cf0" stroke-width="0.8" fill="none"/><path d="M478.5 210.22V214.43M476.5 210.22H480.5M476.5 214.43H480.5" stroke="#3c3cf0" stroke-width="0.8" fill="none"/><path d="M445.1 185.83V191.25M443.1 185.83H447.1M443.1 191.25H447.1" stroke="#ff9a40" stroke-width="0.8" fill="none"/><path d="M462 196.07V200.88M460 196.07H464M460 200.88H464" stroke="#ff9a40" stroke-width="0.8" fill="none"/><circle cx="428.4" cy="175.6" r="2" fill="#ff1a1a"/><circle cx="445.1" cy="180.42" r="2" fill="#ff1a1a"/><circle cx="462" cy="176.8" r="2" fill="#ff1a1a"/><circle cx="478.5" cy="170" r="2" fill="#ff1a1a"/><circle cx="495.6" cy="225.08" r="2" fill="#ff1a1a"/><circle cx="512.3" cy="229.42" r="2" fill="#ff1a1a"/><circle cx="529.2" cy="228.7" r="2" fill="#ff1a1a"/><rect x="426.4" y="171.79" width="4" height="4" fill="#0b5e0b"/><rect x="443.1" y="156.26" width="4" height="4" fill="#0b5e0b"/><rect x="460" y="168.78" width="4" height="4" fill="#0b5e0b"/><rect x="476.5" y="217" width="4" height="4" fill="#0b5e0b"/><rect x="493.6" y="222.36" width="4" height="4" fill="#0b5e0b"/><rect x="510.3" y="224.59" width="4" height="4" fill="#0b5e0b"/><rect x="527.2" y="225.19" width="4" height="4" fill="#0b5e0b"/><path d="M428.4 174.15L430.6 178.05L426.2 178.05Z" fill="#1010d0"/><path d="M445.1 188L447.3 191.89L442.9 191.89Z" fill="#1010d0"/><path d="M462 196.55L464.2 200.44L459.8 200.44Z" fill="#1010d0"/><path d="M478.5 210.27L480.7 214.17L476.3 214.17Z" fill="#1010d0"/><path d="M495.6 216.95L497.8 220.85L493.4 220.85Z" fill="#1010d0"/><path d="M512.3 220.87L514.5 224.76L510.1 224.76Z" fill="#1010d0"/><path d="M529.2 222.31L531.4 226.21L527 226.21Z" fill="#1010d0"/><path d="M428.4 178.1L430.6 174.2L426.2 174.2Z" fill="#ff8a10"/><path d="M445.1 191.04L447.3 187.15L442.9 187.15Z" fill="#ff8a10"/><path d="M462 200.98L464.2 197.08L459.8 197.08Z" fill="#ff8a10"/><path d="M478.5 219.52L480.7 215.62L476.3 215.62Z" fill="#ff8a10"/><path d="M495.6 228.01L497.8 224.11L493.4 224.11Z" fill="#ff8a10"/><path d="M512.3 230.11L514.5 226.22L510.1 226.22Z" fill="#ff8a10"/><path d="M529.2 230.59L531.4 226.7L527 226.7Z" fill="#ff8a10"/><path d="M458 195.6V193.3H466V195.6M474.5 210.5V208.2H482.5V210.5M491.6 218V215.7H499.6V218M508.3 221.9V219.6H516.3V221.9M525.2 223.8V221.5H533.2V223.8" stroke="#555" stroke-width="0.75" fill="none"/><circle cx="445.1" cy="196.4" r="1.0" fill="#222"/><circle cx="462" cy="190.8" r="1.0" fill="#222"/><circle cx="478.5" cy="206.3" r="1.0" fill="#222"/><circle cx="495.6" cy="212.5" r="1.0" fill="#222"/><circle cx="512.3" cy="216.5" r="1.0" fill="#222"/><circle cx="529.2" cy="218.2" r="1.0" fill="#222"/></g><g><text x="6" y="267.4" font-size="10.2" fill="#111" stroke="#111" stroke-width="0.12">C</text><text x="-30.5" y="0" transform="translate(12.9 313.5) rotate(-90)" font-size="7.3" font-weight="bold" fill="#111" textLength="61" lengthAdjust="spacingAndGlyphs">Biofilm Viability %</text><path d="M30.8 268.6V361.2M28.8 358.8H167.2" stroke="#666666" stroke-width="1" fill="none"/><path d="M28.3 358.8H30.8M28.3 343.85H30.8M28.3 328.9H30.8M28.3 313.95H30.8M28.3 299H30.8M28.3 284.05H30.8M28.3 269.1H30.8M49 358.8V360.8M65.7 358.8V360.8M82.5 358.8V360.8M99.3 358.8V360.8M116.4 358.8V360.8M133.3 358.8V360.8M150.2 358.8V360.8M167.2 358.8V361.4" stroke="#666666" stroke-width="0.9" fill="none"/><g font-size="6.9" fill="#333333" stroke="#333333" stroke-width="0.24" text-anchor="end"><text transform="translate(27.5 361.25) scale(0.88 1)">0</text><text transform="translate(27.5 346.3) scale(0.88 1)">25</text><text transform="translate(27.5 331.35) scale(0.88 1)">50</text><text transform="translate(27.5 316.4) scale(0.88 1)">75</text><text transform="translate(27.5 301.45) scale(0.88 1)">100</text><text transform="translate(27.5 286.5) scale(0.88 1)">125</text><text transform="translate(27.5 271.55) scale(0.88 1)">150</text></g><g font-size="6.2" fill="#333333" stroke="#333333" stroke-width="0.24" text-anchor="middle"><text transform="translate(49 368.4) scale(0.97 1)">CTL</text><text transform="translate(65.7 368.4) scale(0.97 1)">1/4</text><text transform="translate(66.1 375.8) scale(0.97 1)">MIC</text><text transform="translate(82.5 368.4) scale(0.97 1)">1/2</text><text transform="translate(82.9 375.8) scale(0.97 1)">MIC</text><text transform="translate(99.3 368.4) scale(0.97 1)">1</text><text transform="translate(99.7 375.8) scale(0.97 1)">MIC</text><text transform="translate(116.4 368.4) scale(0.97 1)">2</text><text transform="translate(116.8 375.8) scale(0.97 1)">MIC</text><text transform="translate(133.3 368.4) scale(0.97 1)">4</text><text transform="translate(133.7 375.8) scale(0.97 1)">MIC</text><text transform="translate(150.2 368.4) scale(0.97 1)">8</text><text transform="translate(150.6 375.8) scale(0.97 1)">MIC</text></g><polyline points="49,298.7 65.7,303.49 82.5,326.63 99.3,349.11 116.4,351.09 133.3,351.8 150.2,350.13" fill="none" stroke="#ff4a4a" stroke-width="0.9"/><polyline points="49,299 65.7,301.99 82.5,315.98 99.3,324.83 116.4,333.21 133.3,341.88 150.2,347.02" fill="none" stroke="#3d8a3d" stroke-width="0.9"/><polyline points="49,299.3 65.7,303.78 82.5,305.28 99.3,305.82 116.4,303.72 133.3,322.32 150.2,335.3" fill="none" stroke="#3c3cf0" stroke-width="0.9"/><polyline points="49,299 65.7,305.88 82.5,310.12 99.3,302.71 116.4,317.54 133.3,335.3 150.2,343.91" fill="none" stroke="#ff9a40" stroke-width="0.9"/><path d="M99.3 320.35V329.32M97.3 320.35H101.3M97.3 329.32H101.3" stroke="#3d8a3d" stroke-width="0.8" fill="none"/><path d="M116.4 330.22V336.2M114.4 330.22H118.4M114.4 336.2H118.4" stroke="#3d8a3d" stroke-width="0.8" fill="none"/><path d="M82.5 303.49V307.07M80.5 303.49H84.5M80.5 307.07H84.5" stroke="#3c3cf0" stroke-width="0.8" fill="none"/><path d="M99.3 302.83V308.81M97.3 302.83H101.3M97.3 308.81H101.3" stroke="#3c3cf0" stroke-width="0.8" fill="none"/><path d="M116.4 297.15V310.3M114.4 297.15H118.4M114.4 310.3H118.4" stroke="#3c3cf0" stroke-width="0.8" fill="none"/><path d="M133.3 319.33V325.31M131.3 319.33H135.3M131.3 325.31H135.3" stroke="#3c3cf0" stroke-width="0.8" fill="none"/><path d="M150.2 329.92V340.68M148.2 329.92H152.2M148.2 340.68H152.2" stroke="#3c3cf0" stroke-width="0.8" fill="none"/><path d="M65.7 299.9V311.86M63.7 299.9H67.7M63.7 311.86H67.7" stroke="#ff9a40" stroke-width="0.8" fill="none"/><path d="M82.5 305.94V314.31M80.5 305.94H84.5M80.5 314.31H84.5" stroke="#ff9a40" stroke-width="0.8" fill="none"/><path d="M99.3 300.91V304.5M97.3 300.91H101.3M97.3 304.5H101.3" stroke="#ff9a40" stroke-width="0.8" fill="none"/><path d="M116.4 313.35V321.72M114.4 313.35H118.4M114.4 321.72H118.4" stroke="#ff9a40" stroke-width="0.8" fill="none"/><circle cx="49" cy="298.7" r="2" fill="#ff1a1a"/><circle cx="65.7" cy="303.49" r="2" fill="#ff1a1a"/><circle cx="82.5" cy="326.63" r="2" fill="#ff1a1a"/><circle cx="99.3" cy="349.11" r="2" fill="#ff1a1a"/><circle cx="116.4" cy="351.09" r="2" fill="#ff1a1a"/><circle cx="133.3" cy="351.8" r="2" fill="#ff1a1a"/><circle cx="150.2" cy="350.13" r="2" fill="#ff1a1a"/><rect x="47" y="297" width="4" height="4" fill="#0b5e0b"/><rect x="63.7" y="299.99" width="4" height="4" fill="#0b5e0b"/><rect x="80.5" y="313.98" width="4" height="4" fill="#0b5e0b"/><rect x="97.3" y="322.83" width="4" height="4" fill="#0b5e0b"/><rect x="114.4" y="331.21" width="4" height="4" fill="#0b5e0b"/><rect x="131.3" y="339.88" width="4" height="4" fill="#0b5e0b"/><rect x="148.2" y="345.02" width="4" height="4" fill="#0b5e0b"/><path d="M49 297.25L51.2 301.14L46.8 301.14Z" fill="#1010d0"/><path d="M65.7 301.73L67.9 305.63L63.5 305.63Z" fill="#1010d0"/><path d="M82.5 303.23L84.7 307.12L80.3 307.12Z" fill="#1010d0"/><path d="M99.3 303.77L101.5 307.66L97.1 307.66Z" fill="#1010d0"/><path d="M116.4 301.67L118.6 305.57L114.2 305.57Z" fill="#1010d0"/><path d="M133.3 320.27L135.5 324.17L131.1 324.17Z" fill="#1010d0"/><path d="M150.2 333.25L152.4 337.14L148 337.14Z" fill="#1010d0"/><path d="M49 301.5L51.2 297.6L46.8 297.6Z" fill="#ff8a10"/><path d="M65.7 308.38L67.9 304.48L63.5 304.48Z" fill="#ff8a10"/><path d="M82.5 312.62L84.7 308.73L80.3 308.73Z" fill="#ff8a10"/><path d="M99.3 305.21L101.5 301.31L97.1 301.31Z" fill="#ff8a10"/><path d="M116.4 320.04L118.6 316.14L114.2 316.14Z" fill="#ff8a10"/><path d="M133.3 337.8L135.5 333.9L131.1 333.9Z" fill="#ff8a10"/><path d="M150.2 346.41L152.4 342.51L148 342.51Z" fill="#ff8a10"/><path d="M146.2 330.1V327.8H154.2V330.1" stroke="#555" stroke-width="0.75" fill="none"/><circle cx="82.5" cy="322.7" r="1.0" fill="#222"/><circle cx="99.3" cy="318.1" r="1.0" fill="#222"/><circle cx="99.3" cy="344.3" r="1.0" fill="#222"/><circle cx="116.4" cy="327" r="1.0" fill="#222"/><circle cx="116.4" cy="346" r="1.0" fill="#222"/><circle cx="133.3" cy="316.1" r="1.0" fill="#222"/><circle cx="133.3" cy="331.1" r="1.0" fill="#222"/><circle cx="133.3" cy="347.6" r="1.0" fill="#222"/><circle cx="150.2" cy="323.7" r="1.0" fill="#222"/></g><g><text x="190" y="267.7" font-size="10.2" fill="#111" stroke="#111" stroke-width="0.12">F</text><text x="-30.5" y="0" transform="translate(204 315.2) rotate(-90)" font-size="7.3" font-weight="bold" fill="#111" textLength="61" lengthAdjust="spacingAndGlyphs">Biofilm Viability %</text><path d="M222.3 269.2V360.9M220.3 358.5H356.3" stroke="#666666" stroke-width="1" fill="none"/><path d="M219.8 358.5H222.3M219.8 343.7H222.3M219.8 328.9H222.3M219.8 314.1H222.3M219.8 299.3H222.3M219.8 284.5H222.3M219.8 269.7H222.3M238.8 358.5V360.5M255.9 358.5V360.5M272.7 358.5V360.5M289.2 358.5V360.5M306 358.5V360.5M322.6 358.5V360.5M339.1 358.5V360.5M356.3 358.5V361.1" stroke="#666666" stroke-width="0.9" fill="none"/><g font-size="6.9" fill="#333333" stroke="#333333" stroke-width="0.24" text-anchor="end"><text transform="translate(219 360.95) scale(0.88 1)">0</text><text transform="translate(219 346.15) scale(0.88 1)">25</text><text transform="translate(219 331.35) scale(0.88 1)">50</text><text transform="translate(219 316.55) scale(0.88 1)">75</text><text transform="translate(219 301.75) scale(0.88 1)">100</text><text transform="translate(219 286.95) scale(0.88 1)">125</text><text transform="translate(219 272.15) scale(0.88 1)">150</text></g><g font-size="6.2" fill="#333333" stroke="#333333" stroke-width="0.24" text-anchor="middle"><text transform="translate(238.8 368.1) scale(0.97 1)">CTL</text><text transform="translate(255.9 368.1) scale(0.97 1)">1/4</text><text transform="translate(256.3 375.6) scale(0.97 1)">MIC</text><text transform="translate(272.7 368.1) scale(0.97 1)">1/2</text><text transform="translate(273.1 375.6) scale(0.97 1)">MIC</text><text transform="translate(289.2 368.1) scale(0.97 1)">1</text><text transform="translate(289.6 375.6) scale(0.97 1)">MIC</text><text transform="translate(306 368.1) scale(0.97 1)">2</text><text transform="translate(306.4 375.6) scale(0.97 1)">MIC</text><text transform="translate(322.6 368.1) scale(0.97 1)">4</text><text transform="translate(323 375.6) scale(0.97 1)">MIC</text><text transform="translate(339.1 368.1) scale(0.97 1)">8</text><text transform="translate(339.5 375.6) scale(0.97 1)">MIC</text></g><polyline points="238.8,299.3 255.9,308.48 272.7,319.78 289.2,346.48 306,351.28 322.6,351.28 339.1,351.69" fill="none" stroke="#ff4a4a" stroke-width="0.9"/><polyline points="238.8,299.3 255.9,299.3 272.7,303.44 289.2,298.18 306,324.1 322.6,339.67 339.1,342.99" fill="none" stroke="#3d8a3d" stroke-width="0.9"/><polyline points="238.8,299.89 255.9,314.46 272.7,326.59 289.2,334.88 306,342.1 322.6,347.31 339.1,347.49" fill="none" stroke="#3c3cf0" stroke-width="0.9"/><polyline points="238.8,299.3 255.9,313.74 272.7,325.64 289.2,339.2 306,345 322.6,347.9 339.1,347.9" fill="none" stroke="#ff9a40" stroke-width="0.9"/><path d="M255.9 305.52V311.44M253.9 305.52H257.9M253.9 311.44H257.9" stroke="#ff4a4a" stroke-width="0.8" fill="none"/><path d="M272.7 316.53V323.04M270.7 316.53H274.7M270.7 323.04H274.7" stroke="#ff4a4a" stroke-width="0.8" fill="none"/><path d="M255.9 311.97V315.52M253.9 311.97H257.9M253.9 315.52H257.9" stroke="#ff9a40" stroke-width="0.8" fill="none"/><circle cx="238.8" cy="299.3" r="2" fill="#ff1a1a"/><circle cx="255.9" cy="308.48" r="2" fill="#ff1a1a"/><circle cx="272.7" cy="319.78" r="2" fill="#ff1a1a"/><circle cx="289.2" cy="346.48" r="2" fill="#ff1a1a"/><circle cx="306" cy="351.28" r="2" fill="#ff1a1a"/><circle cx="322.6" cy="351.28" r="2" fill="#ff1a1a"/><circle cx="339.1" cy="351.69" r="2" fill="#ff1a1a"/><rect x="236.8" y="297.3" width="4" height="4" fill="#0b5e0b"/><rect x="253.9" y="297.3" width="4" height="4" fill="#0b5e0b"/><rect x="270.7" y="301.44" width="4" height="4" fill="#0b5e0b"/><rect x="287.2" y="296.18" width="4" height="4" fill="#0b5e0b"/><rect x="304" y="322.1" width="4" height="4" fill="#0b5e0b"/><rect x="320.6" y="337.67" width="4" height="4" fill="#0b5e0b"/><rect x="337.1" y="340.99" width="4" height="4" fill="#0b5e0b"/><path d="M238.8 297.84L241 301.74L236.6 301.74Z" fill="#1010d0"/><path d="M255.9 312.41L258.1 316.3L253.7 316.3Z" fill="#1010d0"/><path d="M272.7 324.54L274.9 328.44L270.5 328.44Z" fill="#1010d0"/><path d="M289.2 332.83L291.4 336.72L287 336.72Z" fill="#1010d0"/><path d="M306 340.05L308.2 343.95L303.8 343.95Z" fill="#1010d0"/><path d="M322.6 345.26L324.8 349.16L320.4 349.16Z" fill="#1010d0"/><path d="M339.1 345.44L341.3 349.33L336.9 349.33Z" fill="#1010d0"/><path d="M238.8 301.8L241 297.9L236.6 297.9Z" fill="#ff8a10"/><path d="M255.9 316.24L258.1 312.35L253.7 312.35Z" fill="#ff8a10"/><path d="M272.7 328.14L274.9 324.25L270.5 324.25Z" fill="#ff8a10"/><path d="M289.2 341.7L291.4 337.81L287 337.81Z" fill="#ff8a10"/><path d="M306 347.5L308.2 343.61L303.8 343.61Z" fill="#ff8a10"/><path d="M322.6 350.4L324.8 346.51L320.4 346.51Z" fill="#ff8a10"/><path d="M339.1 350.4L341.3 346.51L336.9 346.51Z" fill="#ff8a10"/><path d="M268.7 315.6V313.3H276.7V315.6M285.2 333.7V331.4H293.2V333.7M302 339.9V337.6H310V339.9M318.6 339.1V336.8H326.6V339.1M335.1 341.5V339.2H343.1V341.5" stroke="#555" stroke-width="0.75" fill="none"/><circle cx="272.7" cy="310.5" r="1.0" fill="#222"/><circle cx="289.2" cy="328.9" r="1.0" fill="#222"/><circle cx="306" cy="319.4" r="1.0" fill="#222"/><circle cx="306" cy="335.7" r="1.0" fill="#222"/><circle cx="322.6" cy="333.7" r="1.0" fill="#222"/><circle cx="339.1" cy="336.8" r="1.0" fill="#222"/></g><g><text x="380.4" y="267.7" font-size="10.2" fill="#111" stroke="#111" stroke-width="0.12">I</text><text x="-30.5" y="0" transform="translate(393.4 314.2) rotate(-90)" font-size="7.3" font-weight="bold" fill="#111" textLength="61" lengthAdjust="spacingAndGlyphs">Biofilm Viability %</text><path d="M411.7 268V360.3M409.7 357.9H546.3" stroke="#666666" stroke-width="1" fill="none"/><path d="M409.2 357.9H411.7M409.2 343H411.7M409.2 328.1H411.7M409.2 313.2H411.7M409.2 298.3H411.7M409.2 283.4H411.7M409.2 268.5H411.7M429 357.9V359.9M445.5 357.9V359.9M462.6 357.9V359.9M479.1 357.9V359.9M495.8 357.9V359.9M512.7 357.9V359.9M529.5 357.9V359.9M546.3 357.9V360.5" stroke="#666666" stroke-width="0.9" fill="none"/><g font-size="6.9" fill="#333333" stroke="#333333" stroke-width="0.24" text-anchor="end"><text transform="translate(408.4 360.35) scale(0.88 1)">0</text><text transform="translate(408.4 345.45) scale(0.88 1)">25</text><text transform="translate(408.4 330.55) scale(0.88 1)">50</text><text transform="translate(408.4 315.65) scale(0.88 1)">75</text><text transform="translate(408.4 300.75) scale(0.88 1)">100</text><text transform="translate(408.4 285.85) scale(0.88 1)">125</text><text transform="translate(408.4 270.95) scale(0.88 1)">150</text></g><g font-size="6.2" fill="#333333" stroke="#333333" stroke-width="0.24" text-anchor="middle"><text transform="translate(429 367.5) scale(0.97 1)">CTL</text><text transform="translate(445.5 367.5) scale(0.97 1)">1/4</text><text transform="translate(445.9 374.7) scale(0.97 1)">MIC</text><text transform="translate(462.6 367.5) scale(0.97 1)">1/2</text><text transform="translate(463 374.7) scale(0.97 1)">MIC</text><text transform="translate(479.1 367.5) scale(0.97 1)">1</text><text transform="translate(479.5 374.7) scale(0.97 1)">MIC</text><text transform="translate(495.8 367.5) scale(0.97 1)">2</text><text transform="translate(496.2 374.7) scale(0.97 1)">MIC</text><text transform="translate(512.7 367.5) scale(0.97 1)">4</text><text transform="translate(513.1 374.7) scale(0.97 1)">MIC</text><text transform="translate(529.5 367.5) scale(0.97 1)">8</text><text transform="translate(529.9 374.7) scale(0.97 1)">MIC</text></g><polyline points="429,298.3 445.5,298.3 462.6,290.31 479.1,301.58 495.8,337.22 512.7,350.99 529.5,352.12" fill="none" stroke="#ff4a4a" stroke-width="0.9"/><polyline points="429,298.3 445.5,290.55 462.6,292.82 479.1,335.25 495.8,344.91 512.7,349.97 529.5,349.97" fill="none" stroke="#3d8a3d" stroke-width="0.9"/><polyline points="429,298.3 445.5,306.29 462.6,311.29 479.1,324.88 495.8,331.08 512.7,342.23 529.5,346.28" fill="none" stroke="#3c3cf0" stroke-width="0.9"/><polyline points="429,298.3 445.5,312.01 462.6,320.35 479.1,340.08 495.8,342.23 512.7,346.28 529.5,348.01" fill="none" stroke="#ff9a40" stroke-width="0.9"/><path d="M445.5 294.13V302.47M443.5 294.13H447.5M443.5 302.47H447.5" stroke="#ff4a4a" stroke-width="0.8" fill="none"/><path d="M462.6 286.44V294.19M460.6 286.44H464.6M460.6 294.19H464.6" stroke="#ff4a4a" stroke-width="0.8" fill="none"/><path d="M479.1 298.9V304.26M477.1 298.9H481.1M477.1 304.26H481.1" stroke="#ff4a4a" stroke-width="0.8" fill="none"/><path d="M495.8 334.83V339.6M493.8 334.83H497.8M493.8 339.6H497.8" stroke="#ff4a4a" stroke-width="0.8" fill="none"/><path d="M479.1 337.4V342.76M477.1 337.4H481.1M477.1 342.76H481.1" stroke="#ff9a40" stroke-width="0.8" fill="none"/><circle cx="429" cy="298.3" r="2" fill="#ff1a1a"/><circle cx="445.5" cy="298.3" r="2" fill="#ff1a1a"/><circle cx="462.6" cy="290.31" r="2" fill="#ff1a1a"/><circle cx="479.1" cy="301.58" r="2" fill="#ff1a1a"/><circle cx="495.8" cy="337.22" r="2" fill="#ff1a1a"/><circle cx="512.7" cy="350.99" r="2" fill="#ff1a1a"/><circle cx="529.5" cy="352.12" r="2" fill="#ff1a1a"/><rect x="427" y="296.3" width="4" height="4" fill="#0b5e0b"/><rect x="443.5" y="288.55" width="4" height="4" fill="#0b5e0b"/><rect x="460.6" y="290.82" width="4" height="4" fill="#0b5e0b"/><rect x="477.1" y="333.25" width="4" height="4" fill="#0b5e0b"/><rect x="493.8" y="342.91" width="4" height="4" fill="#0b5e0b"/><rect x="510.7" y="347.97" width="4" height="4" fill="#0b5e0b"/><rect x="527.5" y="347.97" width="4" height="4" fill="#0b5e0b"/><path d="M429 296.25L431.2 300.15L426.8 300.15Z" fill="#1010d0"/><path d="M445.5 304.24L447.7 308.13L443.3 308.13Z" fill="#1010d0"/><path d="M462.6 309.24L464.8 313.14L460.4 313.14Z" fill="#1010d0"/><path d="M479.1 322.83L481.3 326.73L476.9 326.73Z" fill="#1010d0"/><path d="M495.8 329.03L498 332.93L493.6 332.93Z" fill="#1010d0"/><path d="M512.7 340.18L514.9 344.07L510.5 344.07Z" fill="#1010d0"/><path d="M529.5 344.23L531.7 348.12L527.3 348.12Z" fill="#1010d0"/><path d="M429 300.8L431.2 296.9L426.8 296.9Z" fill="#ff8a10"/><path d="M445.5 314.51L447.7 310.61L443.3 310.61Z" fill="#ff8a10"/><path d="M462.6 322.85L464.8 318.96L460.4 318.96Z" fill="#ff8a10"/><path d="M479.1 342.58L481.3 338.68L476.9 338.68Z" fill="#ff8a10"/><path d="M495.8 344.73L498 340.83L493.6 340.83Z" fill="#ff8a10"/><path d="M512.7 348.78L514.9 344.88L510.5 344.88Z" fill="#ff8a10"/><path d="M529.5 350.51L531.7 346.61L527.3 346.61Z" fill="#ff8a10"/><path d="M491.8 330.1V327.8H499.8V330.1M508.7 341V338.7H516.7V341M525.5 345.1V342.8H533.5V345.1" stroke="#555" stroke-width="0.75" fill="none"/><circle cx="445.5" cy="316.8" r="1.0" fill="#222"/><circle cx="462.6" cy="308" r="1.0" fill="#222"/><circle cx="462.6" cy="316.4" r="1.0" fill="#222"/><circle cx="479.1" cy="320.2" r="1.0" fill="#222"/><circle cx="479.1" cy="330.5" r="1.0" fill="#222"/><circle cx="495.8" cy="324.3" r="1.0" fill="#222"/><circle cx="512.7" cy="334.6" r="1.0" fill="#222"/><circle cx="529.5" cy="339.7" r="1.0" fill="#222"/></g><path d="M116.6 392.2H127.6" stroke="#ff4a4a" stroke-width="1"/><circle cx="122.1" cy="392.2" r="2" fill="#ff1a1a"/><text x="133.8" y="395.6" font-size="8.2" fill="#222" textLength="30.7" lengthAdjust="spacingAndGlyphs">Alexidine</text><path d="M201 391.6H212" stroke="#3d8a3d" stroke-width="1"/><rect x="204.5" y="389.6" width="4" height="4" fill="#0b5e0b"/><text x="217.6" y="395" font-size="8.2" fill="#222" textLength="48.8" lengthAdjust="spacingAndGlyphs">MMV1580844</text><path d="M295 390H305.6" stroke="#3c3cf0" stroke-width="1"/><path d="M300.3 387.95L302.5 391.85L298.1 391.85Z" fill="#1010d0"/><text x="311.6" y="393.4" font-size="8.2" fill="#222" textLength="44.4" lengthAdjust="spacingAndGlyphs">MMV642550</text><path d="M377 389.6H387.6" stroke="#ff9a40" stroke-width="1"/><path d="M382.3 392.1L384.5 388.2L380.1 388.2Z" fill="#ff8a10"/><text x="394" y="393" font-size="8.2" fill="#222" textLength="44" lengthAdjust="spacingAndGlyphs">MMV019724</text></svg>
</body></html>
